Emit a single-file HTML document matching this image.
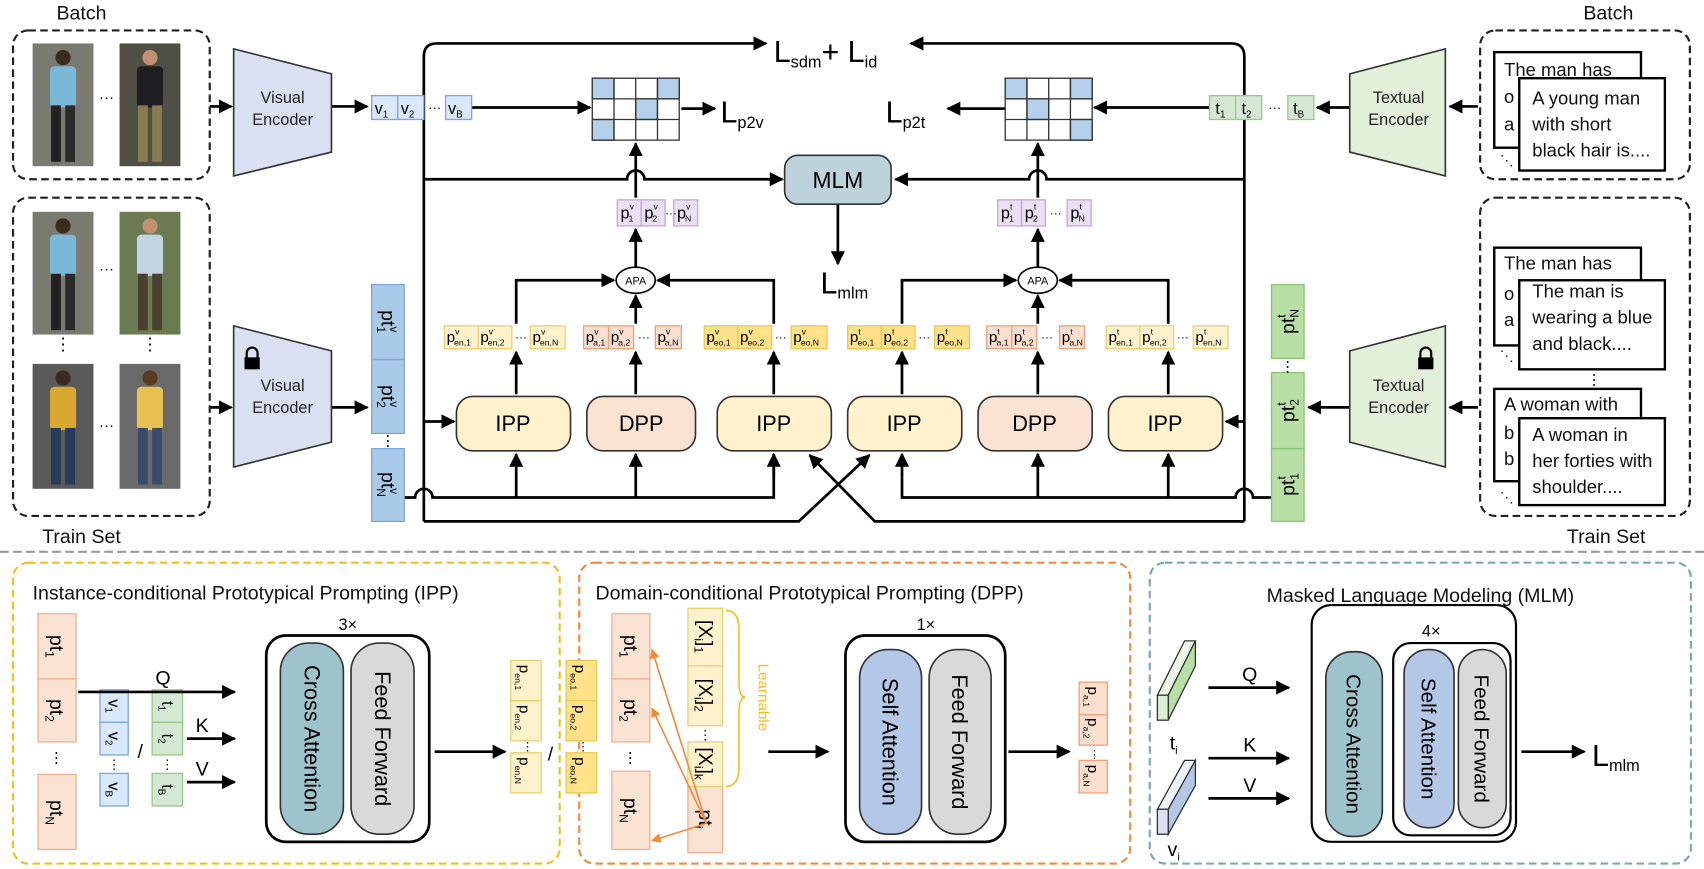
<!DOCTYPE html>
<html><head><meta charset="utf-8"><style>
html,body{margin:0;padding:0;background:#fff;}
svg{display:block;font-family:"Liberation Sans",sans-serif;}
</style></head><body>
<svg width="1704" height="869" viewBox="0 0 1568 800" preserveAspectRatio="none" xmlns="http://www.w3.org/2000/svg">
<defs>
<marker id="ah" viewBox="0 0 10 10" refX="9" refY="5" markerWidth="13" markerHeight="13" markerUnits="userSpaceOnUse" orient="auto"><path d="M0,0 L10,5 L0,10 z" fill="#000"/></marker>
<marker id="ao" viewBox="0 0 10 10" refX="9" refY="5" markerWidth="9" markerHeight="9" markerUnits="userSpaceOnUse" orient="auto"><path d="M0,0 L10,5 L0,10 z" fill="#f08a3c"/></marker>
</defs>
<g fill="none" stroke="#000" stroke-width="2.5">
<path d="M193,98 H213" marker-end="url(#ah)"/>
<path d="M305,98 H338" marker-end="url(#ah)"/>
<path d="M434,99 H543" marker-end="url(#ah)"/>
<path d="M627,100 H658" marker-end="url(#ah)"/>
<path d="M193,375 H213" marker-end="url(#ah)"/>
<path d="M305,375 H338" marker-end="url(#ah)"/>
<path d="M390,480 V52 Q390,40 402,40 H705" marker-end="url(#ah)"/>
<path d="M1145,480 V52 Q1145,40 1133,40 H838" marker-end="url(#ah)"/>
<path d="M1113,99 H1007" marker-end="url(#ah)"/>
<path d="M925,100 H872" marker-end="url(#ah)"/>
<path d="M1242,99 H1212" marker-end="url(#ah)"/>
<path d="M1360,98 H1334" marker-end="url(#ah)"/>
<path d="M1242,375 H1204" marker-end="url(#ah)"/>
<path d="M1360,375 H1334" marker-end="url(#ah)"/>
<path d="M390,165 H577 a8,8 0 0 1 16,0 H720" marker-end="url(#ah)"/>
<path d="M1145,165 H963 a8,8 0 0 0 -16,0 H824" marker-end="url(#ah)"/>
<path d="M585,182 V132" marker-end="url(#ah)"/>
<path d="M955,182 V132" marker-end="url(#ah)"/>
<path d="M771,188 V243" marker-end="url(#ah)"/>
<path d="M585,246 V211" marker-end="url(#ah)"/>
<path d="M955,246 V211" marker-end="url(#ah)"/>
<path d="M475,298 V258 H565" marker-end="url(#ah)"/>
<path d="M712,298 V258 H605" marker-end="url(#ah)"/>
<path d="M585,298 V272" marker-end="url(#ah)"/>
<path d="M830,298 V258 H935" marker-end="url(#ah)"/>
<path d="M1075,298 V258 H975" marker-end="url(#ah)"/>
<path d="M955,298 V272" marker-end="url(#ah)"/>
<path d="M475,363 V324" marker-end="url(#ah)"/>
<path d="M585,363 V324" marker-end="url(#ah)"/>
<path d="M712,363 V324" marker-end="url(#ah)"/>
<path d="M830,363 V324" marker-end="url(#ah)"/>
<path d="M955,363 V324" marker-end="url(#ah)"/>
<path d="M1075,363 V324" marker-end="url(#ah)"/>
<path d="M372,458 H382 a8,8 0 0 1 16,0 H712 V418"/>
<path d="M712,440 V418" marker-end="url(#ah)"/>
<path d="M475,458 V418" marker-end="url(#ah)"/>
<path d="M585,458 V418" marker-end="url(#ah)"/>
<path d="M1170,458 H1153 a8,8 0 0 0 -16,0 H830 V440"/>
<path d="M830,440 V418" marker-end="url(#ah)"/>
<path d="M955,458 V418" marker-end="url(#ah)"/>
<path d="M1075,458 V418" marker-end="url(#ah)"/>
<path d="M390,388 H418" marker-end="url(#ah)"/>
<path d="M1145,388 H1128" marker-end="url(#ah)"/>
<path d="M390,480 H735 L800,419" marker-end="url(#ah)"/>
<path d="M1145,480 H805 L745,419" marker-end="url(#ah)"/>
</g>

<g font-size="18" text-anchor="middle" fill="#111">
<text x="75" y="18">Batch</text>
<text x="1480" y="18">Batch</text>
<text x="75" y="500">Train Set</text>
<text x="1478" y="500">Train Set</text>
</g>

<rect x="12" y="28" width="181" height="137" rx="14" fill="none" stroke="#222" stroke-width="2" stroke-dasharray="7,4"/>
<rect x="12" y="182" width="181" height="293" rx="14" fill="none" stroke="#222" stroke-width="2" stroke-dasharray="7,4"/>
<g>
<rect x="30" y="40" width="56" height="113" fill="#7a7a70"/><circle cx="58" cy="53" r="7" fill="#3a2a20"/><rect x="46" y="61" width="24" height="38" rx="4" fill="#7ab8d8"/><rect x="47" y="97" width="9" height="52" fill="#222"/><rect x="60" y="97" width="9" height="52" fill="#2a2a2a"/>
<rect x="110" y="40" width="56" height="113" fill="#4f4f45"/><circle cx="138" cy="53" r="7" fill="#c09070"/><rect x="126" y="61" width="24" height="38" rx="4" fill="#1e1e22"/><rect x="127" y="97" width="9" height="52" fill="#8a7a50"/><rect x="140" y="97" width="9" height="52" fill="#8a7a50"/>
<rect x="30" y="195" width="56" height="113" fill="#7a7a70"/><circle cx="58" cy="208" r="7" fill="#3a2a20"/><rect x="46" y="216" width="24" height="38" rx="4" fill="#7ab8d8"/><rect x="47" y="252" width="9" height="52" fill="#222"/><rect x="60" y="252" width="9" height="52" fill="#2a2a2a"/>
<rect x="110" y="195" width="56" height="113" fill="#6b7a50"/><circle cx="138" cy="208" r="7" fill="#c09070"/><rect x="126" y="216" width="24" height="38" rx="4" fill="#c0d4e4"/><rect x="127" y="252" width="9" height="52" fill="#4a4030"/><rect x="140" y="252" width="9" height="52" fill="#4a4030"/>
<rect x="30" y="335" width="56" height="115" fill="#5a5a5a"/><circle cx="58" cy="348" r="7" fill="#3a2a20"/><rect x="46" y="356" width="24" height="40" rx="4" fill="#d8a830"/><rect x="47" y="394" width="9" height="52" fill="#2a3a5a"/><rect x="60" y="394" width="9" height="52" fill="#2a3a5a"/>
<rect x="110" y="335" width="56" height="115" fill="#6a6a6a"/><circle cx="138" cy="348" r="7" fill="#5a3a20"/><rect x="126" y="356" width="24" height="40" rx="4" fill="#e6c050"/><rect x="127" y="394" width="9" height="52" fill="#3a4a6a"/><rect x="140" y="394" width="9" height="52" fill="#3a4a6a"/>
</g>
<g font-size="14" text-anchor="middle"><text x="98" y="94">···</text><text x="98" y="252">···</text><text x="98" y="396">···</text></g>
<g font-size="16" text-anchor="middle"><text x="58" y="322">⋮</text><text x="138" y="322">⋮</text></g>

<polygon points="215,45 305,68 305,140 215,162" fill="#dae0f2" stroke="#333" stroke-width="1.5"/>
<polygon points="215,300 305,323 305,407 215,430" fill="#dae0f2" stroke="#333" stroke-width="1.5"/>
<polygon points="1242,68 1330,45 1330,162 1242,140" fill="#e2efd9" stroke="#333" stroke-width="1.5"/>
<polygon points="1242,323 1330,300 1330,430 1242,407" fill="#e2efd9" stroke="#333" stroke-width="1.5"/>
<g font-size="15" text-anchor="middle" fill="#222">
<text x="260" y="95">Visual</text><text x="260" y="115">Encoder</text>
<text x="260" y="360">Visual</text><text x="260" y="380">Encoder</text>
<text x="1287" y="95">Textual</text><text x="1287" y="115">Encoder</text>
<text x="1287" y="360">Textual</text><text x="1287" y="380">Encoder</text>
</g>
<g><path d="M227,330 v-5 a5,5 0 0 1 10,0 v5" fill="none" stroke="#000" stroke-width="2"/><rect x="225" y="329" width="14" height="11" fill="#000"/></g>
<g><path d="M1307,330 v-5 a5,5 0 0 1 10,0 v5" fill="none" stroke="#000" stroke-width="2"/><rect x="1305" y="329" width="14" height="11" fill="#000"/></g>

<g stroke="#7ea6d8" stroke-width="1.2" fill="#dae8fc">
<rect x="342" y="88" width="24" height="22"/><rect x="366" y="88" width="24" height="22"/><rect x="410" y="88" width="24" height="22"/>
</g>
<g font-size="15" text-anchor="middle">
<text x="351" y="105">v<tspan font-size="9" dy="3">1</tspan></text>
<text x="375" y="105">v<tspan font-size="9" dy="3">2</tspan></text>
<text x="400" y="103" font-size="12">···</text>
<text x="419" y="105">v<tspan font-size="9" dy="3">B</tspan></text>
</g>
<g stroke="#98c985" stroke-width="1.2" fill="#d5e8d4">
<rect x="1113" y="88" width="24" height="22"/><rect x="1137" y="88" width="24" height="22"/><rect x="1185" y="88" width="24" height="22"/>
</g>
<g font-size="15" text-anchor="middle">
<text x="1123" y="105">t<tspan font-size="9" dy="3">1</tspan></text>
<text x="1147" y="105">t<tspan font-size="9" dy="3">2</tspan></text>
<text x="1173" y="103" font-size="12">···</text>
<text x="1195" y="105">t<tspan font-size="9" dy="3">B</tspan></text>
</g>

<g stroke="#333" stroke-width="1.2">
<rect x="545" y="72" width="80" height="57" fill="#fff"/>
<g fill="#b4d0ea"><rect x="545" y="72" width="20" height="19"/><rect x="605" y="72" width="20" height="19"/><rect x="585" y="91" width="20" height="19"/><rect x="545" y="110" width="20" height="19"/></g>
<path d="M565,72 V129 M585,72 V129 M605,72 V129 M545,91 H625 M545,110 H625" fill="none"/>
<rect x="925" y="72" width="80" height="57" fill="#fff"/>
<g fill="#b4d0ea"><rect x="925" y="72" width="20" height="19"/><rect x="985" y="72" width="20" height="19"/><rect x="945" y="91" width="20" height="19"/><rect x="985" y="110" width="20" height="19"/></g>
<path d="M945,72 V129 M965,72 V129 M985,72 V129 M925,91 H1005 M925,110 H1005" fill="none"/>
</g>

<text x="663" y="113" font-size="28">L<tspan font-size="15" dy="5">p2v</tspan></text>
<text x="815" y="113" font-size="28">L<tspan font-size="15" dy="5">p2t</tspan></text>
<text x="712" y="57" font-size="28">L<tspan font-size="15" dy="5">sdm</tspan><tspan dy="-5">+ L</tspan><tspan font-size="15" dy="5">id</tspan></text>
<text x="755" y="270" font-size="28">L<tspan font-size="15" dy="5">mlm</tspan></text>

<rect x="722" y="143" width="98" height="45" rx="12" fill="#bcd3db" stroke="#333" stroke-width="1.5"/>
<text x="771" y="173" font-size="21" text-anchor="middle">MLM</text>

<g stroke="#c3a6d6" stroke-width="1.2" fill="#ece0f4">
<rect x="568" y="184" width="22" height="24"/><rect x="590" y="184" width="22" height="24"/><rect x="620" y="184" width="22" height="24"/>
<rect x="918" y="184" width="22" height="24"/><rect x="940" y="184" width="22" height="24"/><rect x="982" y="184" width="22" height="24"/>
</g>
<g font-size="15">
<text x="571" y="201">p<tspan font-size="8" dy="-8">v</tspan><tspan font-size="8" dx="-5" dy="11">1</tspan></text>
<text x="593" y="201">p<tspan font-size="8" dy="-8">v</tspan><tspan font-size="8" dx="-5" dy="11">2</tspan></text>
<text x="612" y="200" font-size="11">···</text>
<text x="623" y="201">p<tspan font-size="8" dy="-8">v</tspan><tspan font-size="8" dx="-5" dy="11">N</tspan></text>
<text x="921" y="201">p<tspan font-size="8" dy="-8">t</tspan><tspan font-size="8" dx="-3" dy="11">1</tspan></text>
<text x="943" y="201">p<tspan font-size="8" dy="-8">t</tspan><tspan font-size="8" dx="-3" dy="11">2</tspan></text>
<text x="966" y="200" font-size="11">···</text>
<text x="985" y="201">p<tspan font-size="8" dy="-8">t</tspan><tspan font-size="8" dx="-3" dy="11">N</tspan></text>
</g>

<ellipse cx="585" cy="258" rx="18" ry="12" fill="#fff" stroke="#000" stroke-width="1.5"/>
<ellipse cx="955" cy="258" rx="18" ry="12" fill="#fff" stroke="#000" stroke-width="1.5"/>
<g font-size="10" text-anchor="middle"><text x="585" y="262">APA</text><text x="955" y="262">APA</text></g>

<g stroke-width="1.2">
<g fill="#fff2cc" stroke="#ecd070"><rect x="409" y="300" width="31" height="21"/><rect x="440" y="300" width="31" height="21"/><rect x="488" y="300" width="32" height="21"/>
<rect x="1018" y="300" width="31" height="21"/><rect x="1049" y="300" width="31" height="21"/><rect x="1098" y="300" width="32" height="21"/></g>
<g fill="#fbe0d0" stroke="#eea07a"><rect x="537" y="300" width="23" height="21"/><rect x="560" y="300" width="23" height="21"/><rect x="603" y="300" width="24" height="21"/>
<rect x="908" y="300" width="23" height="21"/><rect x="931" y="300" width="23" height="21"/><rect x="975" y="300" width="23" height="21"/></g>
<g fill="#ffe28a" stroke="#ecc850"><rect x="648" y="300" width="31" height="21"/><rect x="679" y="300" width="31" height="21"/><rect x="728" y="300" width="33" height="21"/>
<rect x="780" y="300" width="31" height="21"/><rect x="811" y="300" width="31" height="21"/><rect x="860" y="300" width="32" height="21"/></g>
</g>
<g font-size="14">
<text x="411" y="315">p<tspan font-size="8" dy="-7">v</tspan><tspan font-size="8" dx="-5" dy="10">en,1</tspan></text>
<text x="442" y="315">p<tspan font-size="8" dy="-7">v</tspan><tspan font-size="8" dx="-5" dy="10">en,2</tspan></text>
<text x="474" y="314" font-size="11">···</text>
<text x="490" y="315">p<tspan font-size="8" dy="-7">v</tspan><tspan font-size="8" dx="-5" dy="10">en,N</tspan></text>
<text x="539" y="315">p<tspan font-size="8" dy="-7">v</tspan><tspan font-size="8" dx="-5" dy="10">a,1</tspan></text>
<text x="562" y="315">p<tspan font-size="8" dy="-7">v</tspan><tspan font-size="8" dx="-5" dy="10">a,2</tspan></text>
<text x="587" y="314" font-size="11">···</text>
<text x="605" y="315">p<tspan font-size="8" dy="-7">v</tspan><tspan font-size="8" dx="-5" dy="10">a,N</tspan></text>
<text x="650" y="315">p<tspan font-size="8" dy="-7">v</tspan><tspan font-size="8" dx="-5" dy="10">eo,1</tspan></text>
<text x="681" y="315">p<tspan font-size="8" dy="-7">v</tspan><tspan font-size="8" dx="-5" dy="10">eo,2</tspan></text>
<text x="713" y="314" font-size="11">···</text>
<text x="730" y="315">p<tspan font-size="8" dy="-7">v</tspan><tspan font-size="8" dx="-5" dy="10">eo,N</tspan></text>
<text x="782" y="315">p<tspan font-size="8" dy="-7">t</tspan><tspan font-size="8" dx="-3" dy="10">eo,1</tspan></text>
<text x="813" y="315">p<tspan font-size="8" dy="-7">t</tspan><tspan font-size="8" dx="-3" dy="10">eo,2</tspan></text>
<text x="845" y="314" font-size="11">···</text>
<text x="862" y="315">p<tspan font-size="8" dy="-7">t</tspan><tspan font-size="8" dx="-3" dy="10">eo,N</tspan></text>
<text x="910" y="315">p<tspan font-size="8" dy="-7">t</tspan><tspan font-size="8" dx="-3" dy="10">a,1</tspan></text>
<text x="933" y="315">p<tspan font-size="8" dy="-7">t</tspan><tspan font-size="8" dx="-3" dy="10">a,2</tspan></text>
<text x="958" y="314" font-size="11">···</text>
<text x="977" y="315">p<tspan font-size="8" dy="-7">t</tspan><tspan font-size="8" dx="-3" dy="10">a,N</tspan></text>
<text x="1020" y="315">p<tspan font-size="8" dy="-7">t</tspan><tspan font-size="8" dx="-3" dy="10">en,1</tspan></text>
<text x="1051" y="315">p<tspan font-size="8" dy="-7">t</tspan><tspan font-size="8" dx="-3" dy="10">en,2</tspan></text>
<text x="1083" y="314" font-size="11">···</text>
<text x="1100" y="315">p<tspan font-size="8" dy="-7">t</tspan><tspan font-size="8" dx="-3" dy="10">en,N</tspan></text>
</g>

<g stroke="#333" stroke-width="1.5">
<rect x="420" y="365" width="105" height="50" rx="15" fill="#fff2cc"/>
<rect x="540" y="365" width="100" height="50" rx="15" fill="#fbe3d4"/>
<rect x="660" y="365" width="105" height="50" rx="15" fill="#fff2cc"/>
<rect x="780" y="365" width="105" height="50" rx="15" fill="#fff2cc"/>
<rect x="900" y="365" width="105" height="50" rx="15" fill="#fbe3d4"/>
<rect x="1020" y="365" width="105" height="50" rx="15" fill="#fff2cc"/>
</g>
<g font-size="20" text-anchor="middle">
<text x="472" y="397">IPP</text><text x="590" y="397">DPP</text><text x="712" y="397">IPP</text>
<text x="832" y="397">IPP</text><text x="952" y="397">DPP</text><text x="1072" y="397">IPP</text>
</g>

<g stroke-width="1.2">
<g fill="#a9cbe9" stroke="#7ea6d8"><rect x="342" y="262" width="30" height="69"/><rect x="342" y="331" width="30" height="68"/><rect x="342" y="413" width="30" height="67"/></g>
<g fill="#b7dfa6" stroke="#8cc474"><rect x="1170" y="262" width="30" height="68"/><rect x="1170" y="343" width="30" height="70"/><rect x="1170" y="413" width="30" height="67"/></g>
</g>
<g font-size="18" text-anchor="middle">
<text transform="translate(357,296) rotate(90)" dy="6">pt<tspan font-size="11" dy="4">1</tspan><tspan font-size="11" dx="-6" dy="-12">v</tspan></text>
<text transform="translate(357,365) rotate(90)" dy="6">pt<tspan font-size="11" dy="4">2</tspan><tspan font-size="11" dx="-6" dy="-12">v</tspan></text>
<text transform="translate(357,446) rotate(90)" dy="6">pt<tspan font-size="11" dy="4">N</tspan><tspan font-size="11" dx="-8" dy="-12">v</tspan></text>
<text transform="translate(1185,296) rotate(-90)" dy="6">pt<tspan font-size="11" dy="4">N</tspan><tspan font-size="11" dx="-8" dy="-12">t</tspan></text>
<text transform="translate(1185,378) rotate(-90)" dy="6">pt<tspan font-size="11" dy="4">2</tspan><tspan font-size="11" dx="-6" dy="-12">t</tspan></text>
<text transform="translate(1185,446) rotate(-90)" dy="6">pt<tspan font-size="11" dy="4">1</tspan><tspan font-size="11" dx="-6" dy="-12">t</tspan></text>
<text x="357" y="410" font-size="14">⋮</text>
<text x="1185" y="342" font-size="14">⋮</text>
</g>

<rect x="1362" y="28" width="193" height="137" rx="14" fill="none" stroke="#222" stroke-width="2" stroke-dasharray="7,4"/>
<rect x="1362" y="182" width="193" height="293" rx="14" fill="none" stroke="#222" stroke-width="2" stroke-dasharray="7,4"/>
<g stroke="#000" stroke-width="2.2" fill="#fff">
<rect x="1375" y="48" width="135" height="88"/>
<rect x="1398" y="72" width="134" height="85"/>
<rect x="1375" y="228" width="135" height="90"/>
<rect x="1398" y="258" width="134" height="82"/>
<rect x="1375" y="358" width="135" height="85"/>
<rect x="1398" y="385" width="134" height="80"/>
</g>
<g font-size="17" fill="#111">
<text x="1384" y="70">The man has</text><text x="1384" y="95">o</text><text x="1384" y="120">a</text><text x="1380" y="152" font-size="13">⋱</text>
<text x="1410" y="96">A young man</text><text x="1410" y="120">with short</text><text x="1410" y="144">black hair is....</text>
<text x="1384" y="248">The man has</text><text x="1384" y="276">o</text><text x="1384" y="300">a</text><text x="1380" y="332" font-size="13">⋱</text>
<text x="1410" y="274">The man is</text><text x="1410" y="298">wearing a blue</text><text x="1410" y="322">and black....</text>
<text x="1460" y="354" font-size="14">⋮</text>
<text x="1384" y="378">A woman with</text><text x="1384" y="404">b</text><text x="1384" y="428">b</text><text x="1380" y="462" font-size="13">⋱</text>
<text x="1410" y="406">A woman in</text><text x="1410" y="430">her forties with</text><text x="1410" y="454">shoulder....</text>
</g>

<line x1="0" y1="508" x2="1568" y2="508" stroke="#999" stroke-width="2" stroke-dasharray="8,4"/>

<rect x="12" y="518" width="503" height="277" rx="14" fill="none" stroke="#f0c020" stroke-width="2" stroke-dasharray="7,4"/>
<rect x="533" y="518" width="507" height="277" rx="14" fill="none" stroke="#f08c3c" stroke-width="2" stroke-dasharray="7,4"/>
<rect x="1058" y="518" width="498" height="277" rx="14" fill="none" stroke="#7aa8b8" stroke-width="2" stroke-dasharray="7,4"/>
<g font-size="18" fill="#111">
<text x="30" y="552">Instance-conditional Prototypical Prompting (IPP)</text>
<text x="548" y="552">Domain-conditional Prototypical Prompting (DPP)</text>
<text x="1307" y="554" text-anchor="middle">Masked Language Modeling (MLM)</text>
</g>

<g stroke="#f0b090" stroke-width="1.2" fill="#fbe3d4">
<rect x="35" y="565" width="35" height="60"/><rect x="35" y="625" width="35" height="58"/><rect x="35" y="713" width="35" height="69"/>
</g>
<g font-size="18" text-anchor="middle">
<text transform="translate(52,595) rotate(90)" dy="6">pt<tspan font-size="11" dy="4">1</tspan></text>
<text transform="translate(52,654) rotate(90)" dy="6">pt<tspan font-size="11" dy="4">2</tspan></text>
<text transform="translate(52,748) rotate(90)" dy="6">pt<tspan font-size="11" dy="4">N</tspan></text>
<text x="52" y="702" font-size="14">⋮</text>
</g>
<g stroke-width="1.2">
<g fill="#dae8fc" stroke="#7ea6d8"><rect x="92" y="635" width="26" height="30"/><rect x="92" y="665" width="26" height="30"/><rect x="92" y="712" width="26" height="30"/></g>
<g fill="#d5e8d4" stroke="#98c985"><rect x="140" y="635" width="28" height="30"/><rect x="140" y="665" width="28" height="30"/><rect x="140" y="712" width="28" height="30"/></g>
</g>
<g font-size="15" text-anchor="middle">
<text transform="translate(105,650) rotate(90)" dy="5">v<tspan font-size="9" dy="3">1</tspan></text>
<text transform="translate(105,680) rotate(90)" dy="5">v<tspan font-size="9" dy="3">2</tspan></text>
<text transform="translate(105,727) rotate(90)" dy="5">v<tspan font-size="9" dy="3">B</tspan></text>
<text transform="translate(154,650) rotate(90)" dy="5">t<tspan font-size="9" dy="3">1</tspan></text>
<text transform="translate(154,680) rotate(90)" dy="5">t<tspan font-size="9" dy="3">2</tspan></text>
<text transform="translate(154,727) rotate(90)" dy="5">t<tspan font-size="9" dy="3">B</tspan></text>
<text x="105" y="708" font-size="12">⋮</text><text x="154" y="708" font-size="12">⋮</text>
<text x="129" y="698" font-size="18">/</text>
</g>
<g fill="none" stroke="#000" stroke-width="2.5">
<path d="M72,637 H216" marker-end="url(#ah)"/>
<path d="M172,680 H216" marker-end="url(#ah)"/>
<path d="M172,720 H216" marker-end="url(#ah)"/>
<path d="M400,692 H465" marker-end="url(#ah)"/>
</g>
<g font-size="18" text-anchor="middle"><text x="150" y="630">Q</text><text x="186" y="674">K</text><text x="186" y="714">V</text></g>
<rect x="245" y="585" width="150" height="190" rx="18" fill="#fff" stroke="#000" stroke-width="2.5"/>
<text x="320" y="580" font-size="15" text-anchor="middle">3×</text>
<rect x="258" y="592" width="58" height="176" rx="26" fill="#9fc3cc" stroke="#333" stroke-width="1.5"/>
<rect x="323" y="592" width="58" height="176" rx="26" fill="#d9d9d9" stroke="#333" stroke-width="1.5"/>
<g font-size="20" text-anchor="middle">
<text transform="translate(287,680) rotate(90)" dy="7">Cross Attention</text>
<text transform="translate(352,680) rotate(90)" dy="7">Feed Forward</text>
</g>
<g stroke-width="1.2">
<g fill="#fff2cc" stroke="#ecd070"><rect x="470" y="608" width="28" height="37"/><rect x="470" y="645" width="28" height="37"/><rect x="470" y="693" width="28" height="37"/></g>
<g fill="#ffe28a" stroke="#ecc850"><rect x="521" y="608" width="28" height="37"/><rect x="521" y="645" width="28" height="37"/><rect x="521" y="693" width="28" height="37"/></g>
</g>
<g font-size="14">
<text transform="translate(478,612) rotate(90)">p<tspan font-size="8" dy="4">en,1</tspan></text>
<text transform="translate(478,649) rotate(90)">p<tspan font-size="8" dy="4">en,2</tspan></text>
<text transform="translate(478,697) rotate(90)">p<tspan font-size="8" dy="4">en,N</tspan></text>
<text transform="translate(529,612) rotate(90)">p<tspan font-size="8" dy="4">eo,1</tspan></text>
<text transform="translate(529,649) rotate(90)">p<tspan font-size="8" dy="4">eo,2</tspan></text>
<text transform="translate(529,697) rotate(90)">p<tspan font-size="8" dy="4">eo,N</tspan></text>
<text x="480" y="691" font-size="11">⋮</text><text x="531" y="691" font-size="11">⋮</text>
<text x="504" y="700" font-size="18">/</text>
</g>

<g stroke="#f0b090" stroke-width="1.2" fill="#fbe3d4">
<rect x="563" y="565" width="35" height="60"/><rect x="563" y="625" width="35" height="58"/><rect x="563" y="710" width="35" height="72"/>
<rect x="633" y="724" width="32" height="61"/>
</g>
<g stroke="#ecd070" stroke-width="1.2" fill="#fff2cc">
<rect x="633" y="560" width="32" height="53"/><rect x="633" y="613" width="32" height="55"/><rect x="633" y="683" width="32" height="41"/>
</g>
<g font-size="18" text-anchor="middle">
<text transform="translate(580,595) rotate(90)" dy="6">pt<tspan font-size="11" dy="4">1</tspan></text>
<text transform="translate(580,654) rotate(90)" dy="6">pt<tspan font-size="11" dy="4">2</tspan></text>
<text transform="translate(580,746) rotate(90)" dy="6">pt<tspan font-size="11" dy="4">N</tspan></text>
<text transform="translate(649,754) rotate(90)" dy="6">pt<tspan font-size="11" dy="4">i</tspan></text>
<text x="580" y="702" font-size="14">⋮</text>
<text transform="translate(649,586) rotate(90)" dy="6">[X<tspan font-size="11" dy="4">i</tspan><tspan dy="-4">]</tspan><tspan font-size="11" dy="4">1</tspan></text>
<text transform="translate(649,640) rotate(90)" dy="6">[X<tspan font-size="11" dy="4">i</tspan><tspan dy="-4">]</tspan><tspan font-size="11" dy="4">2</tspan></text>
<text transform="translate(649,703) rotate(90)" dy="6">[X<tspan font-size="11" dy="4">i</tspan><tspan dy="-4">]</tspan><tspan font-size="11" dy="4">k</tspan></text>
<text x="649" y="681" font-size="12">⋮</text>
</g>
<path d="M668,562 Q680,562 680,580 V628 Q680,642 686,642 Q680,642 680,656 V706 Q680,724 668,724" fill="none" stroke="#f0c020" stroke-width="1.5"/>
<text transform="translate(698,642) rotate(90)" font-size="14" fill="#f0c020" text-anchor="middle">Learnable</text>
<g stroke="#f08a3c" stroke-width="1.5" fill="none">
<path d="M650,758 L600,598" marker-end="url(#ao)"/>
<path d="M650,758 L600,652" marker-end="url(#ao)"/>
<path d="M650,758 L600,774" marker-end="url(#ao)"/>
</g>
<g fill="none" stroke="#000" stroke-width="2.5">
<path d="M707,692 H762" marker-end="url(#ah)"/>
<path d="M928,692 H984" marker-end="url(#ah)"/>
</g>
<rect x="778" y="585" width="147" height="190" rx="18" fill="#fff" stroke="#000" stroke-width="2.5"/>
<text x="852" y="580" font-size="15" text-anchor="middle">1×</text>
<rect x="791" y="598" width="57" height="170" rx="26" fill="#b4c7e7" stroke="#333" stroke-width="1.5"/>
<rect x="855" y="598" width="57" height="170" rx="26" fill="#d9d9d9" stroke="#333" stroke-width="1.5"/>
<g font-size="20" text-anchor="middle">
<text transform="translate(819,683) rotate(90)" dy="7">Self Attention</text>
<text transform="translate(883,683) rotate(90)" dy="7">Feed Forward</text>
</g>
<g stroke="#eea07a" stroke-width="1.2" fill="#fbe0d0"><rect x="993" y="628" width="26" height="30"/><rect x="993" y="658" width="26" height="28"/><rect x="993" y="700" width="26" height="30"/></g>
<g font-size="14">
<text transform="translate(1001,632) rotate(90)">p<tspan font-size="8" dy="4">a,1</tspan></text>
<text transform="translate(1001,661) rotate(90)">p<tspan font-size="8" dy="4">a,2</tspan></text>
<text transform="translate(1001,704) rotate(90)">p<tspan font-size="8" dy="4">a,N</tspan></text>
<text x="1002" y="698" font-size="10">⋮</text>
</g>

<g stroke="#333" stroke-width="1.2">
<polygon points="1065,640 1090,590 1100,590 1075,640" fill="#eef6ea"/>
<polygon points="1075,640 1100,590 1100,613 1075,663" fill="#b7dfa6"/>
<rect x="1065" y="640" width="10" height="23" fill="#dcefd3"/>
<polygon points="1065,745 1090,700 1100,700 1075,745" fill="#eef1fa"/>
<polygon points="1075,745 1100,700 1100,723 1075,768" fill="#b4c7e7"/>
<rect x="1065" y="745" width="10" height="23" fill="#dae0f2"/>
</g>
<g font-size="18" text-anchor="middle"><text x="1080" y="690">t<tspan font-size="10" dy="4">i</tspan></text><text x="1080" y="788">v<tspan font-size="10" dy="4">i</tspan></text></g>
<g fill="none" stroke="#000" stroke-width="2.5">
<path d="M1112,633 H1186" marker-end="url(#ah)"/>
<path d="M1112,698 H1186" marker-end="url(#ah)"/>
<path d="M1112,735 H1186" marker-end="url(#ah)"/>
<path d="M1400,692 H1458" marker-end="url(#ah)"/>
</g>
<g font-size="18" text-anchor="middle"><text x="1150" y="627">Q</text><text x="1150" y="692">K</text><text x="1150" y="729">V</text></g>
<rect x="1207" y="557" width="188" height="218" rx="18" fill="#fff" stroke="#000" stroke-width="2"/>
<text x="1317" y="586" font-size="15" text-anchor="middle">4×</text>
<rect x="1282" y="592" width="108" height="177" rx="16" fill="#fff" stroke="#000" stroke-width="2"/>
<rect x="1220" y="600" width="52" height="170" rx="24" fill="#9fc3cc" stroke="#333" stroke-width="1.5"/>
<rect x="1292" y="598" width="46" height="164" rx="22" fill="#b4c7e7" stroke="#333" stroke-width="1.5"/>
<rect x="1342" y="598" width="44" height="164" rx="22" fill="#d9d9d9" stroke="#333" stroke-width="1.5"/>
<g font-size="19" text-anchor="middle">
<text transform="translate(1246,685) rotate(90)" dy="7">Cross Attention</text>
<text transform="translate(1315,680) rotate(90)" dy="7">Self Attention</text>
<text transform="translate(1364,680) rotate(90)" dy="7">Feed Forward</text>
</g>
<text x="1465" y="705" font-size="28">L<tspan font-size="15" dy="5">mlm</tspan></text>
</svg>
</body></html>
